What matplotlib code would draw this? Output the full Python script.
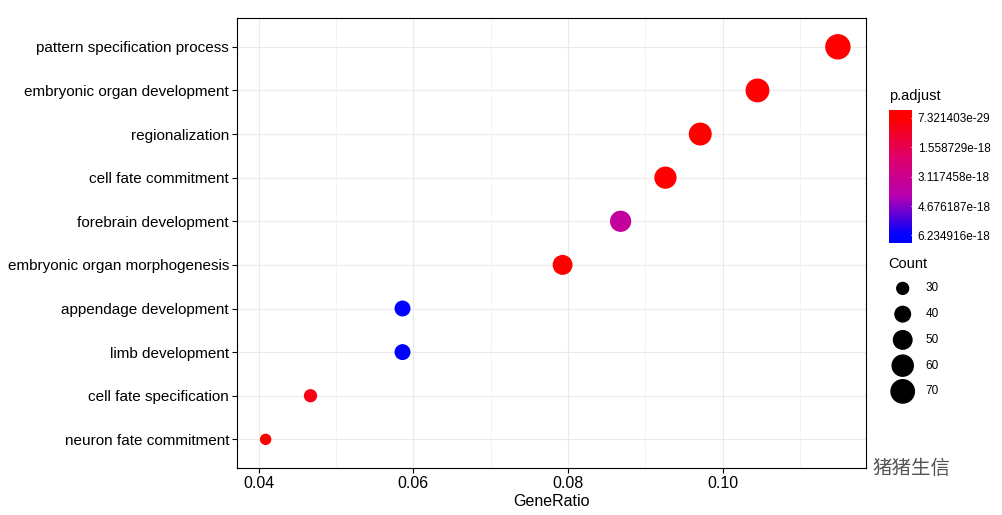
import numpy as np
import matplotlib.pyplot as plt
from matplotlib.colors import LinearSegmentedColormap, Normalize

plt.rcParams['font.family'] = ['Liberation Sans', 'DejaVu Sans']

terms = ["pattern specification process", "embryonic organ development", "regionalization",
         "cell fate commitment", "forebrain development", "embryonic organ morphogenesis",
         "appendage development", "limb development", "cell fate specification",
         "neuron fate commitment"]
gene_ratio = [0.1149, 0.1045, 0.0971, 0.0926, 0.0868, 0.0793, 0.0586, 0.0586, 0.0467, 0.0409]
counts = [73, 66, 62, 59, 55, 50, 37, 37, 30, 26]
padj = [7.4e-29, 1e-25, 1e-24, 1e-22, 3.6e-18, 1e-22, 6.2e-18, 6.23e-18, 4e-19, 1e-21]

cb_ticks = [7.321403e-29, 1.558729e-18, 3.117458e-18, 4.676187e-18, 6.234916e-18]
legend_counts = [30, 40, 50, 60, 70]

cmap = LinearSegmentedColormap.from_list("rb", ["#FF0000", "#E0006A", "#B800B0", "#0000FF"])
norm = Normalize(vmin=cb_ticks[0], vmax=cb_ticks[-1])

def size(c):
    return (10.13 * np.asarray(c) - 163) * 0.518

fig = plt.figure(figsize=(10.03, 5.15), dpi=100)
ax = fig.add_axes([0.236, 0.091, 0.627, 0.874])
y = np.arange(len(terms))[::-1]
ax.scatter(gene_ratio, y, s=size(counts), c=padj, cmap=cmap, norm=norm, zorder=3)
ax.set_yticks(y)
ax.set_yticklabels(terms, fontsize=11)
ax.set_ylim(-0.66, 9.66)
ax.set_xlim(0.03716, 0.11848)
ax.set_xticks([0.04, 0.06, 0.08, 0.10])
ax.set_xticklabels(["0.04", "0.06", "0.08", "0.10"], fontsize=11.5)
ax.set_xticks([0.05, 0.07, 0.09, 0.11], minor=True)
ax.grid(True, which="major", color="#EBEBEB", lw=0.8)
ax.grid(True, which="minor", axis="x", color="#F3F3F3", lw=0.6)
ax.tick_params(which="minor", length=0)
ax.tick_params(which="major", pad=2)
ax.set_axisbelow(True)
ax.set_xlabel("GeneRatio", fontsize=11.5, labelpad=2)
for sp in ax.spines.values():
    sp.set_color("black")

# colorbar
pad = (cb_ticks[-1] - cb_ticks[0]) * 0.065
cax = fig.add_axes([0.886, 0.528, 0.022, 0.258])
grad = np.linspace(cb_ticks[0] - pad, cb_ticks[-1] + pad, 256).reshape(-1, 1)
cax.imshow(grad, aspect="auto", cmap=cmap, norm=norm, origin="upper",
           extent=[0, 1, cb_ticks[-1] + pad, cb_ticks[0] - pad])
cax.set_ylim(cb_ticks[-1] + pad, cb_ticks[0] - pad)
cax.set_xticks([])
cax.yaxis.tick_right()
cax.set_yticks(cb_ticks)
cax.set_yticklabels(["%.6e" % v for v in cb_ticks], fontsize=8.5)
cax.tick_params(axis="y", length=3, color="white", pad=2)
for sp in cax.spines.values():
    sp.set_visible(False)
fig.text(0.886, 0.805, "p.adjust", fontsize=10.5)

# size legend
fig.text(0.886, 0.48, "Count", fontsize=10.5)
lax = fig.add_axes([0.88, 0.21, 0.12, 0.26])
ly = np.arange(len(legend_counts))[::-1]
lax.scatter([0] * len(legend_counts), ly, s=size(legend_counts), c="black")
for yy, c in zip(ly, legend_counts):
    lax.text(0.9, yy, str(c), va="center", fontsize=8.5)
lax.set_xlim(-0.8, 4)
lax.set_ylim(-0.6, 4.6)
lax.axis("off")

fig.text(0.87, 0.08, "猪猪生信", fontsize=14, color="#555555",
         family=["Noto Sans CJK SC", "DejaVu Sans"])

fig.savefig("out.png", dpi=100)
